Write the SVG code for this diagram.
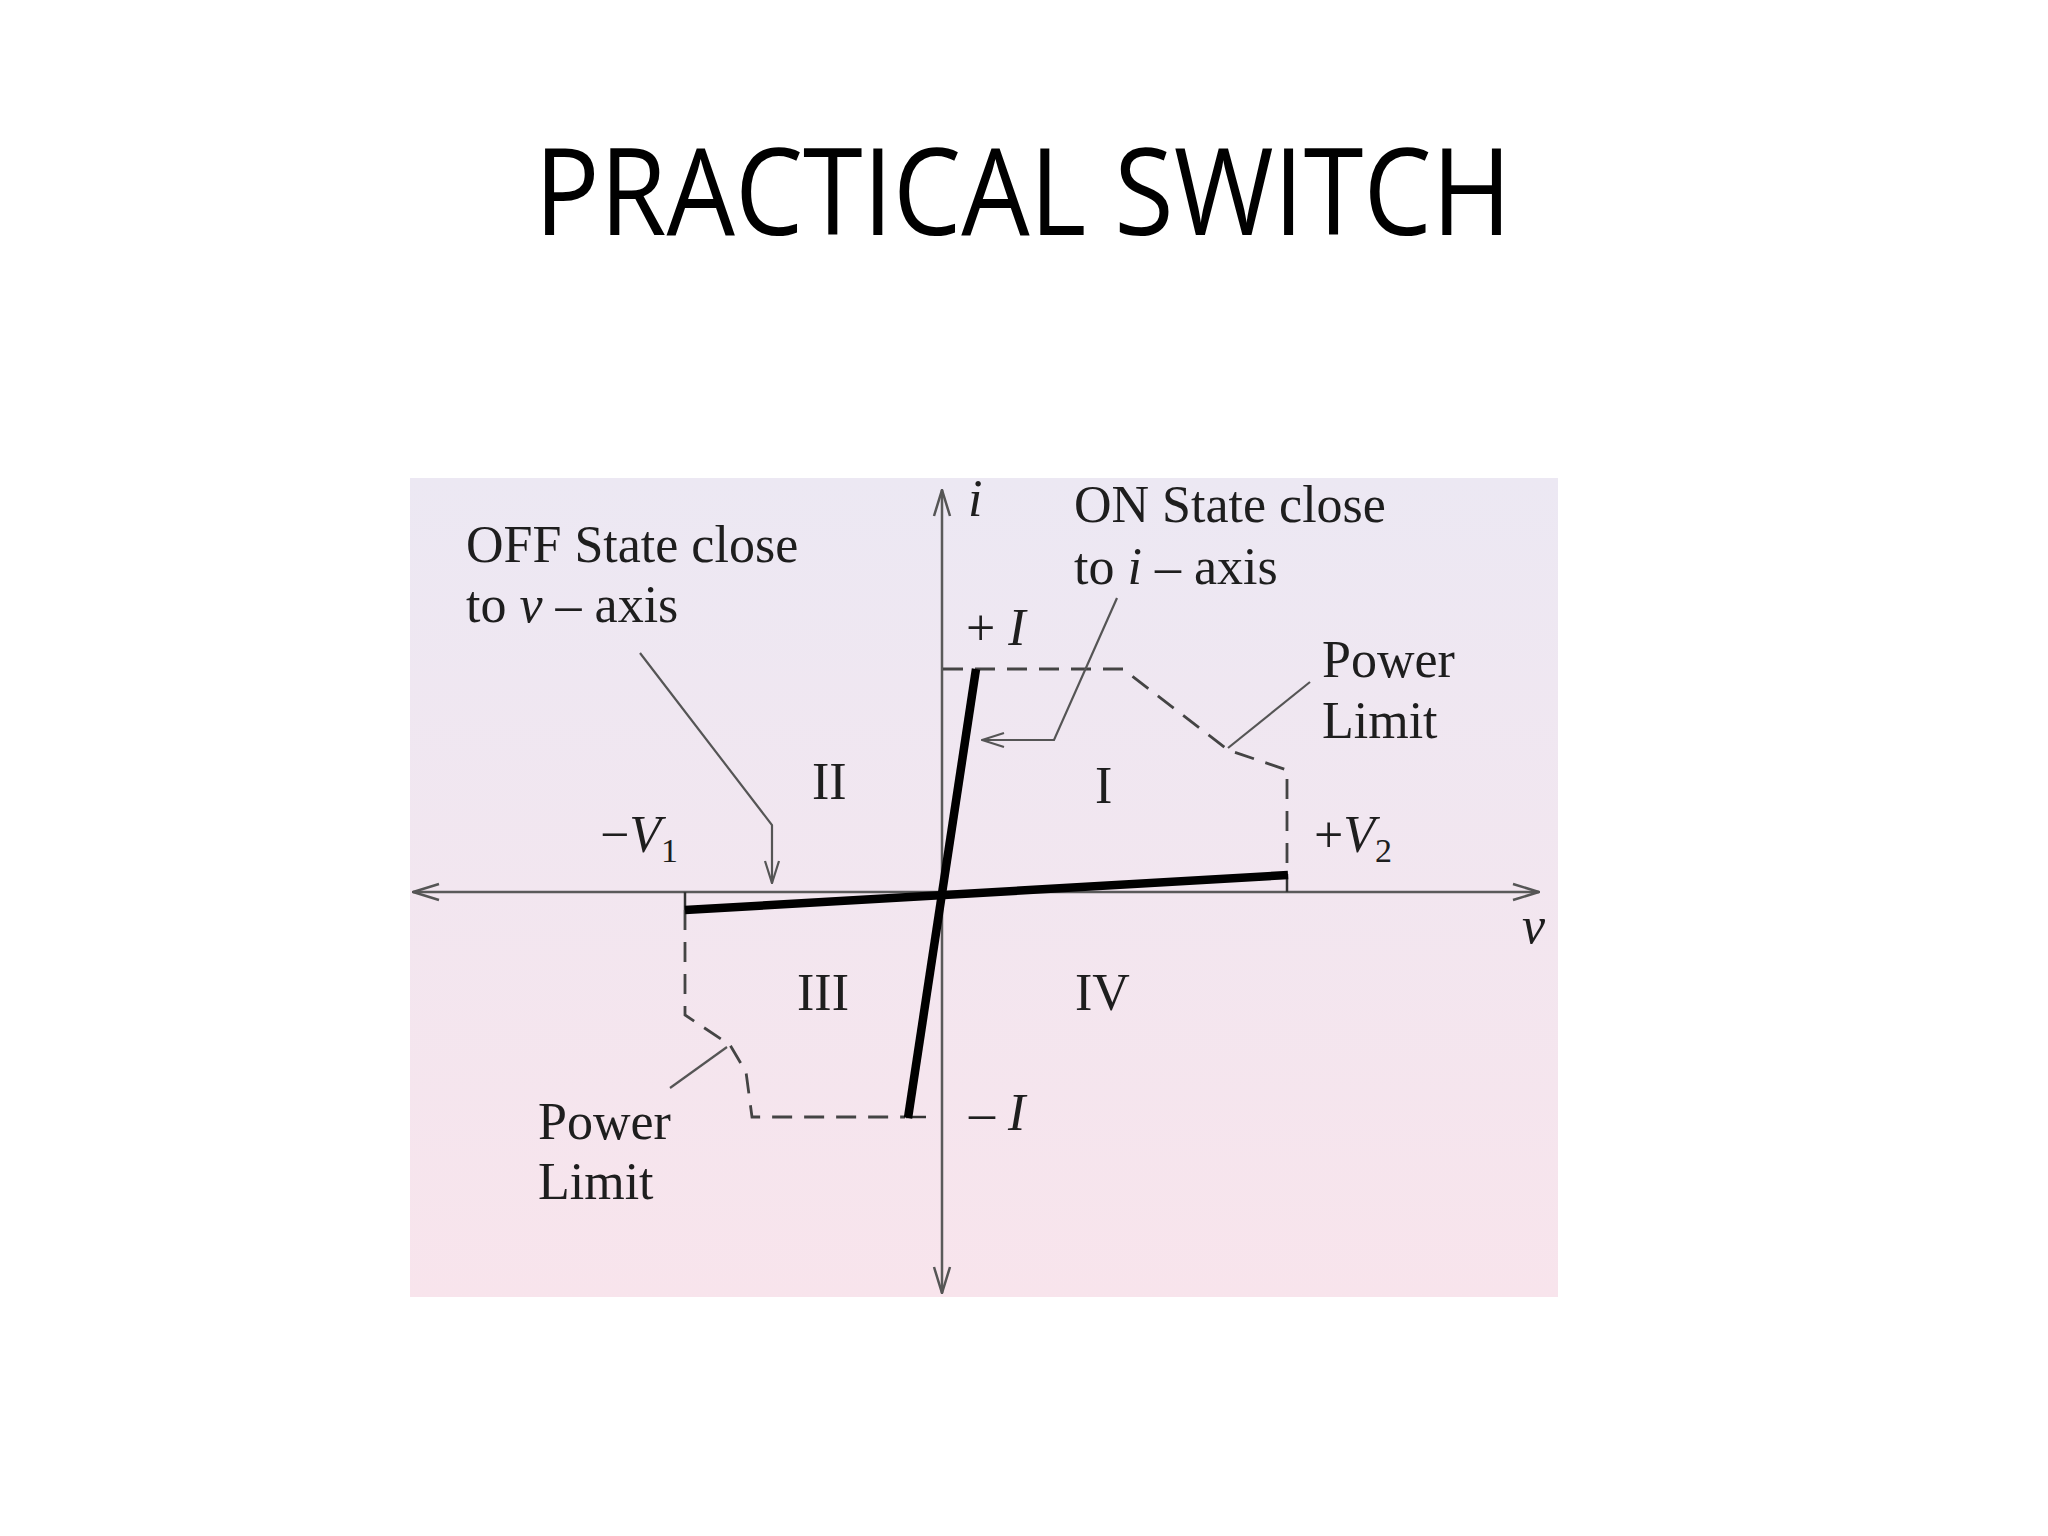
<svg xmlns="http://www.w3.org/2000/svg" width="2048" height="1536" viewBox="0 0 2048 1536">
  <defs>
    <linearGradient id="bg" x1="0" y1="0" x2="0" y2="1">
      <stop offset="0" stop-color="#ece8f3"/>
      <stop offset="1" stop-color="#f8e4ec"/>
    </linearGradient>
    <marker id="arr" viewBox="0 0 30 20" refX="29" refY="10" markerWidth="30" markerHeight="20" markerUnits="userSpaceOnUse" orient="auto-start-reverse">
      <path d="M3,2 L29,10 L3,18" fill="none" stroke="#555" stroke-width="2.5" stroke-linejoin="miter"/>
    </marker>
    <marker id="arrs" viewBox="0 0 26 18" refX="25" refY="9" markerWidth="26" markerHeight="18" markerUnits="userSpaceOnUse" orient="auto">
      <path d="M3,2 L25,9 L3,16" fill="none" stroke="#555" stroke-width="2.2"/>
    </marker>
    <style>
      .title { font-family: "Open Sans", "Noto Sans", sans-serif; font-size: 120px; fill: #000; }
      .lbl { font-family: "Liberation Serif", "Times New Roman", serif; font-size: 52px; fill: #1e1e1e; }
      .it { font-style: italic; }
      .sub { font-size: 34px; }
      .axis { stroke: #5a5a5a; stroke-width: 2.5; fill: none; }
      .thick { stroke: #000; stroke-width: 8.5; fill: none; stroke-linecap: butt; }
      .thin { stroke: #333; stroke-width: 2.5; fill: none; }
      .dash { stroke: #444; stroke-width: 2.8; fill: none; stroke-dasharray: 20 12; }
      .lead { stroke: #555; stroke-width: 2.2; fill: none; }
    </style>
  </defs>

  <rect width="2048" height="1536" fill="#ffffff"/>
  <text class="title" x="1023" y="235" text-anchor="middle" textLength="977" lengthAdjust="spacingAndGlyphs">PRACTICAL SWITCH</text>

  <rect id="plot-bg" x="410" y="478" width="1148" height="819" fill="url(#bg)"/>

  <g id="connectors">
    <line class="axis" x1="942" y1="490" x2="942" y2="1293" marker-start="url(#arr)" marker-end="url(#arr)"/>
    <line class="axis" x1="413" y1="892" x2="1539" y2="892" marker-start="url(#arr)" marker-end="url(#arr)"/>
    <path class="dash" d="M943,669 H1123 L1228,750 L1287,770 V874"/>
    <path class="dash" d="M685,910 V1015 L730,1045 L746,1072 L752,1117 H905"/>
    <line class="thin" x1="685" y1="892" x2="685" y2="910"/>
    <line class="thin" x1="1287" y1="874" x2="1287" y2="892"/>
    <line class="thin" x1="906" y1="1117" x2="926" y2="1117"/>
    <line class="thick" x1="976" y1="669" x2="908" y2="1118"/>
    <line class="thick" x1="685" y1="910" x2="1288" y2="875"/>
    <path class="lead" d="M640,653 L772,825 V883" marker-end="url(#arrs)"/>
    <path class="lead" d="M1117,598 L1054,740 H982" marker-end="url(#arrs)"/>
    <line class="lead" x1="1310" y1="682" x2="1228" y2="748"/>
    <line class="lead" x1="670" y1="1088" x2="727" y2="1047"/>
  </g>

  <g id="axis-labels">
    <text class="lbl it" x="968" y="516">i</text>
    <text class="lbl it" x="1522" y="943">v</text>
  </g>
  <g id="off-state">
    <text class="lbl" x="466" y="562">OFF State close</text>
    <text class="lbl" x="466" y="622">to <tspan class="it">v</tspan> – axis</text>
  </g>
  <g id="on-state">
    <text class="lbl" x="1074" y="522">ON State close</text>
    <text class="lbl" x="1074" y="584">to <tspan class="it">i</tspan> – axis</text>
  </g>
  <g id="power-limit-1">
    <text class="lbl" x="1322" y="677">Power</text>
    <text class="lbl" x="1322" y="738">Limit</text>
  </g>
  <g id="power-limit-3">
    <text class="lbl" x="538" y="1139">Power</text>
    <text class="lbl" x="538" y="1199">Limit</text>
  </g>
  <g id="values">
    <text class="lbl" x="966" y="645">+ <tspan class="it">I</tspan></text>
    <text class="lbl" x="969" y="1130">– <tspan class="it">I</tspan></text>
    <text class="lbl" x="600" y="852">−<tspan class="it">V</tspan><tspan class="sub" dy="10">1</tspan></text>
    <text class="lbl" x="1314" y="852">+<tspan class="it">V</tspan><tspan class="sub" dy="10">2</tspan></text>
  </g>
  <g id="quadrants">
    <text class="lbl" x="812" y="799">II</text>
    <text class="lbl" x="1095" y="803">I</text>
    <text class="lbl" x="797" y="1010">III</text>
    <text class="lbl" x="1075" y="1010">IV</text>
  </g>
</svg>
